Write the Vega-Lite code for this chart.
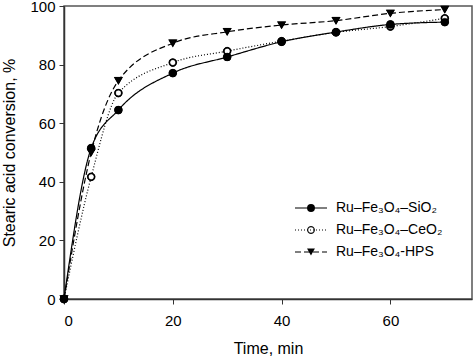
{
  "$schema": "https://vega.github.io/schema/vega-lite/v6.json",
  "width": 408,
  "height": 293,
  "autosize": {"type": "none"},
  "padding": {"left": 64, "top": 6, "right": 2, "bottom": 58},
  "config": {
    "font": "Liberation Sans",
    "view": {"stroke": "#555", "strokeWidth": 1.5},
    "axis": {
      "grid": false,
      "domainColor": "#333",
      "domainWidth": 1.5,
      "tickColor": "#333",
      "tickSize": 5,
      "labelFont": "Liberation Sans",
      "labelFontSize": 15,
      "labelColor": "#000",
      "titleFont": "Liberation Sans",
      "titleFontSize": 16,
      "titleFontWeight": "normal",
      "titleColor": "#000"
    },
    "legend": {"padding": 0}
  },
  "data": {
    "values": [
      {"t": 0, "v": 0, "series": "Ru–Fe₃O₄–SiO₂"},
      {"t": 5, "v": 51.5, "series": "Ru–Fe₃O₄–SiO₂"},
      {"t": 10, "v": 64.5, "series": "Ru–Fe₃O₄–SiO₂"},
      {"t": 20, "v": 77.1, "series": "Ru–Fe₃O₄–SiO₂"},
      {"t": 30, "v": 82.6, "series": "Ru–Fe₃O₄–SiO₂"},
      {"t": 40, "v": 87.8, "series": "Ru–Fe₃O₄–SiO₂"},
      {"t": 50, "v": 91.1, "series": "Ru–Fe₃O₄–SiO₂"},
      {"t": 60, "v": 93.7, "series": "Ru–Fe₃O₄–SiO₂"},
      {"t": 70, "v": 94.5, "series": "Ru–Fe₃O₄–SiO₂"},
      {"t": 0, "v": 0, "series": "Ru–Fe₃O₄–CeO₂"},
      {"t": 5, "v": 41.7, "series": "Ru–Fe₃O₄–CeO₂"},
      {"t": 10, "v": 70.3, "series": "Ru–Fe₃O₄–CeO₂"},
      {"t": 20, "v": 80.7, "series": "Ru–Fe₃O₄–CeO₂"},
      {"t": 30, "v": 84.6, "series": "Ru–Fe₃O₄–CeO₂"},
      {"t": 40, "v": 88.0, "series": "Ru–Fe₃O₄–CeO₂"},
      {"t": 50, "v": 91.0, "series": "Ru–Fe₃O₄–CeO₂"},
      {"t": 60, "v": 93.0, "series": "Ru–Fe₃O₄–CeO₂"},
      {"t": 70, "v": 95.8, "series": "Ru–Fe₃O₄–CeO₂"},
      {"t": 0, "v": 0, "series": "Ru–Fe₃O₄-HPS"},
      {"t": 5, "v": 50.0, "series": "Ru–Fe₃O₄-HPS"},
      {"t": 10, "v": 74.5, "series": "Ru–Fe₃O₄-HPS"},
      {"t": 20, "v": 87.3, "series": "Ru–Fe₃O₄-HPS"},
      {"t": 30, "v": 91.2, "series": "Ru–Fe₃O₄-HPS"},
      {"t": 40, "v": 93.5, "series": "Ru–Fe₃O₄-HPS"},
      {"t": 50, "v": 95.0, "series": "Ru–Fe₃O₄-HPS"},
      {"t": 60, "v": 97.5, "series": "Ru–Fe₃O₄-HPS"},
      {"t": 70, "v": 98.8, "series": "Ru–Fe₃O₄-HPS"}
    ]
  },
  "encoding": {
    "x": {
      "field": "t", "type": "quantitative",
      "scale": {"domain": [0, 75], "nice": false, "zero": false},
      "axis": {"values": [0, 20, 40, 60], "title": "Time, min", "titlePadding": 12, "labelPadding": 9}
    },
    "y": {
      "field": "v", "type": "quantitative",
      "scale": {"domain": [0, 100], "nice": false},
      "axis": {"values": [0, 20, 40, 60, 80, 100], "title": "Stearic acid conversion, %", "titlePadding": 12, "labelPadding": 4}
    }
  },
  "resolve": {"scale": {"shape": "independent", "fill": "independent"}},
  "layer": [
    {
      "mark": {"type": "line", "color": "black", "strokeWidth": 1.2, "interpolate": "monotone", "clip": false},
      "encoding": {
        "detail": {"field": "series"},
        "strokeDash": {
          "field": "series", "type": "nominal",
          "scale": {"domain": ["Ru–Fe₃O₄–SiO₂", "Ru–Fe₃O₄–CeO₂", "Ru–Fe₃O₄-HPS"], "range": [[1, 0], [1, 2], [6, 3]]},
          "legend": {
            "title": null, "orient": "none", "legendX": 240, "legendY": 195,
            "symbolType": "M-4,0H4", "symbolSize": 64, "symbolStrokeColor": "black", "symbolStrokeWidth": 1.2,
            "symbolFillColor": "transparent",
            "labelFont": "Liberation Sans", "labelFontSize": 14, "labelColor": "black", "labelOffset": 18,
            "rowPadding": 8
          }
        }
      }
    },
    {
      "mark": {"type": "point", "filled": true, "size": 50, "stroke": "black", "strokeWidth": 1.2, "opacity": 1, "clip": false},
      "encoding": {
        "shape": {
          "field": "series", "type": "nominal",
          "sort": {"field": "v", "op": "max", "order": "ascending"},
          "scale": {"range": ["circle", "circle", "triangle-down"]},
          "legend": null
        },
        "fill": {
          "field": "series", "type": "nominal",
          "sort": {"field": "v", "op": "max", "order": "ascending"},
          "scale": {"range": ["black", "white", "black"]},
          "legend": null
        }
      }
    },
    {
      "mark": {"type": "point", "filled": true, "size": 62, "stroke": "black", "strokeWidth": 0.4, "opacity": 1, "clip": false},
      "encoding": {
        "shape": {
          "field": "series", "type": "nominal",
          "sort": {"field": "v", "op": "max", "order": "ascending"},
          "scale": {"range": ["circle", "M1,0L0.866,0.5L0.5,0.866L0,1L-0.5,0.866L-0.866,0.5L-1,0L-0.866,-0.5L-0.5,-0.866L0,-1L0.5,-0.866L0.866,-0.5ZM0.72,0L0.624,-0.36L0.36,-0.624L0,-0.72L-0.36,-0.624L-0.624,-0.36L-0.72,0L-0.624,0.36L-0.36,0.624L0,0.72L0.36,0.624L0.624,0.36Z", "triangle-down"]},
          "legend": {
            "title": null, "orient": "none", "legendX": 240, "legendY": 195,
            "symbolSize": 62, "symbolStrokeColor": "black", "symbolStrokeWidth": 0.4,
            "labelFontSize": 14, "labelOpacity": 0, "labelOffset": 18, "rowPadding": 8
          }
        },
        "fill": {
          "field": "series", "type": "nominal",
          "sort": {"field": "v", "op": "max", "order": "ascending"},
          "scale": {"range": ["black", "#010101", "#020202"]},
          "legend": {
            "title": null, "orient": "none", "legendX": 240, "legendY": 195,
            "symbolSize": 62, "symbolStrokeColor": "black", "symbolStrokeWidth": 0.4,
            "labelFontSize": 14, "labelOpacity": 0, "labelOffset": 18, "rowPadding": 8
          }
        }
      }
    }
  ]
}
